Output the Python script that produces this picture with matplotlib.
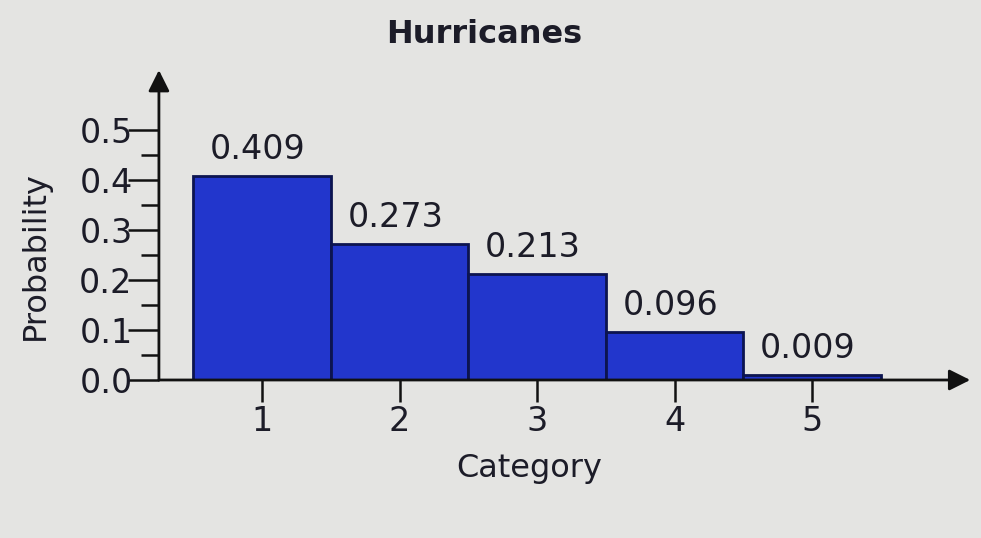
import matplotlib
matplotlib.use("Agg")
import matplotlib.pyplot as plt
from matplotlib.ticker import FixedLocator

categories = [1, 2, 3, 4, 5]
probabilities = [0.409, 0.273, 0.213, 0.096, 0.009]
value_labels = ["0.409", "0.273", "0.213", "0.096", "0.009"]
yticks = [0.0, 0.1, 0.2, 0.3, 0.4, 0.5]
yminor = [0.05, 0.15, 0.25, 0.35, 0.45]

plt.rcParams['font.family'] = ['DejaVu Sans']
bg = "#e4e4e2"
txt = "#1c1c28"

fig = plt.figure(figsize=(9.81, 5.38), dpi=100, facecolor=bg)
ax = fig.add_axes([0.162, 0.2937, 0.827, 0.576])
ax.set_facecolor(bg)

xmin, xmax = 0.25, 6.15
ymax = 0.62
ax.set_xlim(xmin, xmax)
ax.set_ylim(0, ymax)

ax.bar(categories, probabilities, width=1.0, color="#2236cc",
       edgecolor="#0c1450", linewidth=2, zorder=2)

for c, p, lab in zip(categories, probabilities, value_labels):
    ax.text(c - 0.03, p + 0.02, lab, ha="center", va="bottom",
            fontsize=24, color=txt)

for s in ax.spines.values():
    s.set_visible(False)

# axes with arrows
ax.annotate("", xy=(xmax, 0), xytext=(xmin, 0),
            arrowprops=dict(arrowstyle="-|>", color="#111111", lw=2,
                            mutation_scale=32, shrinkA=0, shrinkB=0),
            annotation_clip=False, zorder=3)
ax.annotate("", xy=(xmin, ymax), xytext=(xmin, 0),
            arrowprops=dict(arrowstyle="-|>", color="#111111", lw=2,
                            mutation_scale=32, shrinkA=0, shrinkB=0),
            annotation_clip=False, zorder=3)

ax.set_yticks(yticks)
ax.set_yticklabels([f"{v:.1f}" for v in yticks])
ax.yaxis.set_minor_locator(FixedLocator(yminor))
ax.set_xticks(categories)
ax.set_xticklabels([str(c) for c in categories])

ax.tick_params(axis="y", which="major", length=22, width=1.8, color="#111111",
               labelsize=24, labelcolor=txt, pad=-3)
ax.tick_params(axis="y", which="minor", length=13, width=1.8, color="#111111")
ax.tick_params(axis="x", which="major", length=16, width=1.8, color="#111111",
               labelsize=24, labelcolor=txt, pad=2)

fig.text(0.494, 0.935, "Hurricanes", ha="center", va="center",
         fontsize=23, color=txt, fontweight="bold")
fig.text(0.54, 0.13, "Category", ha="center", va="center",
         fontsize=23, color=txt)
fig.text(0.036, 0.526, "Probability", ha="center", va="center",
         rotation=90, fontsize=23, color=txt)

fig.savefig("out.png", dpi=100, facecolor=bg)
